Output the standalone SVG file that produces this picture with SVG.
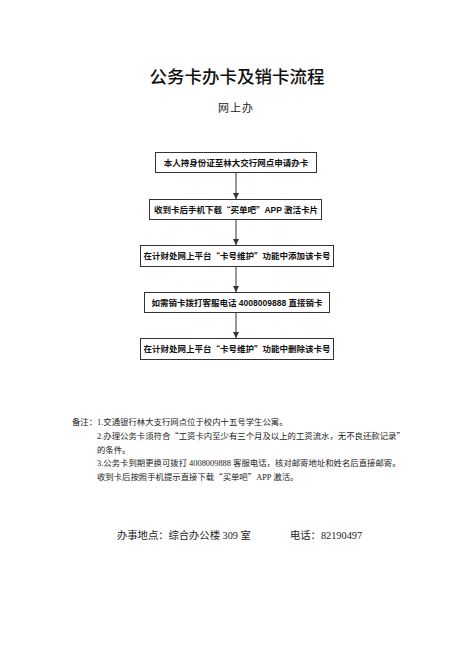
<svg xmlns="http://www.w3.org/2000/svg" width="474" height="670" viewBox="0 0 474 670">
<style>
.bg{fill:#ffffff}
.box{fill:#ffffff;stroke:#333333;stroke-width:1}
.bt{font-family:"Liberation Sans","Noto Sans CJK SC",sans-serif;font-size:8.5px;font-weight:bold;fill:#111111;text-anchor:middle}
.nt{font-family:"Liberation Serif","Noto Sans CJK SC",serif;font-size:8.4px;fill:#222222}
.ft{font-family:"Liberation Serif","Noto Sans CJK SC",serif;font-size:10.3px;fill:#222222}
.q{font-family:"Noto Sans CJK SC",sans-serif}
.conn line{stroke:#333333;stroke-width:1}
</style>
<defs>
<marker id="ah" viewBox="0 0 8 8" refX="8" refY="4" markerWidth="6" markerHeight="6" orient="auto" markerUnits="userSpaceOnUse">
<path d="M0,0 L8,4 L0,8 z" fill="#333333"/>
</marker>
</defs>
<rect class="bg" x="0" y="0" width="474" height="670"/>
<text x="237" y="83" font-family="'Noto Sans CJK SC',sans-serif" font-size="17.5" font-weight="500" fill="#111" text-anchor="middle">公务卡办卡及销卡流程</text>
<text x="236" y="112" font-family="'Noto Sans CJK SC',serif" font-size="11" fill="#222" text-anchor="middle" letter-spacing="1">网上办</text>
<g class="conn">
<line x1="236" y1="173" x2="236" y2="199" marker-end="url(#ah)"/>
<line x1="236" y1="220" x2="236" y2="245" marker-end="url(#ah)"/>
<line x1="236" y1="266" x2="236" y2="292" marker-end="url(#ah)"/>
<line x1="236" y1="313" x2="236" y2="338" marker-end="url(#ah)"/>
</g>
<g id="n1"><rect class="box" x="155.5" y="152.5" width="161" height="20"/><text class="bt" x="236" y="165.5">本人持身份证至林大交行网点申请办卡</text></g>
<g id="n2"><rect class="box" x="149.5" y="199.5" width="172" height="20"/><text class="bt" x="236" y="212.5">收到卡后手机下载<tspan class="q">“</tspan>买单吧<tspan class="q">”</tspan>APP 激活卡片</text></g>
<g id="n3"><rect class="box" x="140.5" y="245.5" width="193" height="21"/><text class="bt" x="237" y="259">在计财处网上平台<tspan class="q">“</tspan>卡号维护<tspan class="q">”</tspan>功能中添加该卡号</text></g>
<g id="n4"><rect class="box" x="144.5" y="292.5" width="185" height="20"/><text class="bt" x="237" y="305.5">如需销卡拨打客服电话 4008009888 直接销卡</text></g>
<g id="n5"><rect class="box" x="140.5" y="338.5" width="193" height="21"/><text class="bt" x="237" y="352">在计财处网上平台<tspan class="q">“</tspan>卡号维护<tspan class="q">”</tspan>功能中删除该卡号</text></g>
<g id="notes">
<text class="nt" x="72" y="425">备注：</text>
<text class="nt" x="97" y="425">1.交通银行林大支行网点位于校内十五号学生公寓。</text>
<text class="nt" x="97" y="439">2.办理公务卡须符合<tspan class="q">“</tspan>工资卡内至少有三个月及以上的工资流水，无不良还款记录<tspan class="q">”</tspan></text>
<text class="nt" x="97" y="453">的条件。</text>
<text class="nt" x="97" y="466">3.公务卡到期更换可拨打 4008009888 客服电话，核对邮寄地址和姓名后直接邮寄。</text>
<text class="nt" x="97" y="480">收到卡后按照手机提示直接下载<tspan class="q">“</tspan>买单吧<tspan class="q">”</tspan>APP 激活。</text>
</g>
<g id="footer">
<text class="ft" x="117" y="539">办事地点：综合办公楼 309 室</text>
<text class="ft" x="290" y="539">电话：82190497</text>
</g>
</svg>
